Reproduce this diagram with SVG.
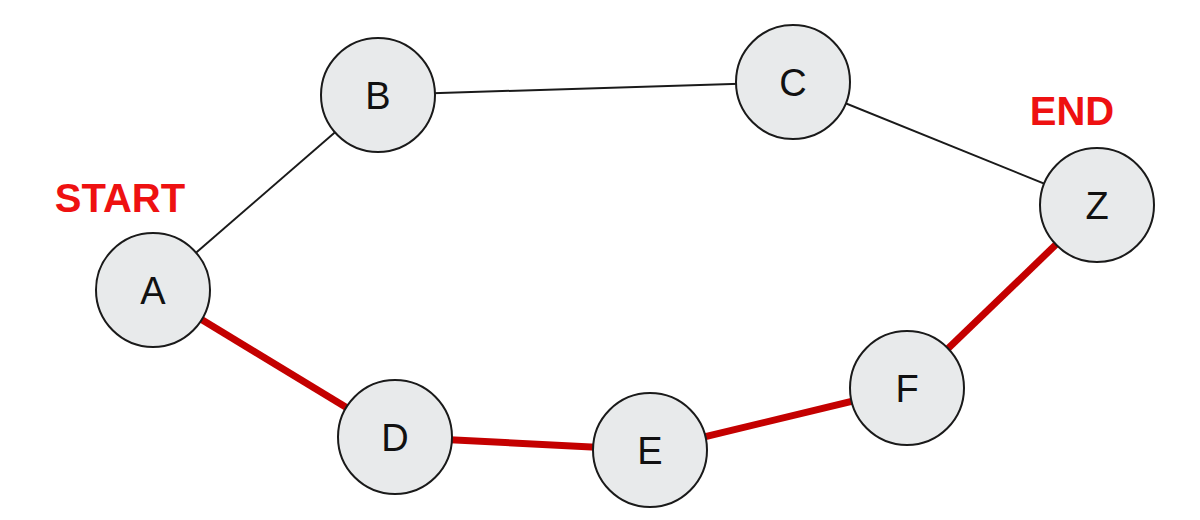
<svg xmlns="http://www.w3.org/2000/svg" width="1200" height="520" viewBox="0 0 1200 520">
<style>
.n{fill:#e8eaeb;stroke:#1a1a1a;stroke-width:2}
.t{font-family:"Liberation Sans",Arial,sans-serif;font-size:38px;fill:#111;text-anchor:middle}
.l{font-family:"Liberation Sans",Arial,sans-serif;font-size:40px;font-weight:bold;fill:#ee1111;text-anchor:middle}
.b{stroke:#1a1a1a;stroke-width:2;fill:none}
.r{stroke:#c40000;stroke-width:7;fill:none}
</style>
<rect width="1200" height="520" fill="#fff"/>
<g id="connectors">
<line class="b" x1="153" y1="290" x2="378" y2="95"/>
<line class="b" x1="378" y1="95" x2="793" y2="82"/>
<line class="b" x1="793" y1="82" x2="1097" y2="205"/>
<line class="r" x1="153" y1="290" x2="395" y2="437"/>
<line class="r" x1="395" y1="437" x2="650" y2="450"/>
<line class="r" x1="650" y1="450" x2="907" y2="388"/>
<line class="r" x1="907" y1="388" x2="1097" y2="205"/>
</g>
<g id="A"><circle class="n" cx="153" cy="290" r="57"/><text class="t" x="153" y="304">A</text></g>
<g id="B"><circle class="n" cx="378" cy="95" r="57"/><text class="t" x="378" y="109">B</text></g>
<g id="C"><circle class="n" cx="793" cy="82" r="57"/><text class="t" x="793" y="96">C</text></g>
<g id="Z"><circle class="n" cx="1097" cy="205" r="57"/><text class="t" x="1097" y="219">Z</text></g>
<g id="F"><circle class="n" cx="907" cy="388" r="57"/><text class="t" x="907" y="402">F</text></g>
<g id="E"><circle class="n" cx="650" cy="450" r="57"/><text class="t" x="650" y="464">E</text></g>
<g id="D"><circle class="n" cx="395" cy="437" r="57"/><text class="t" x="395" y="451">D</text></g>
<text class="l" x="120" y="212">START</text>
<text class="l" x="1072" y="125">END</text>
</svg>
